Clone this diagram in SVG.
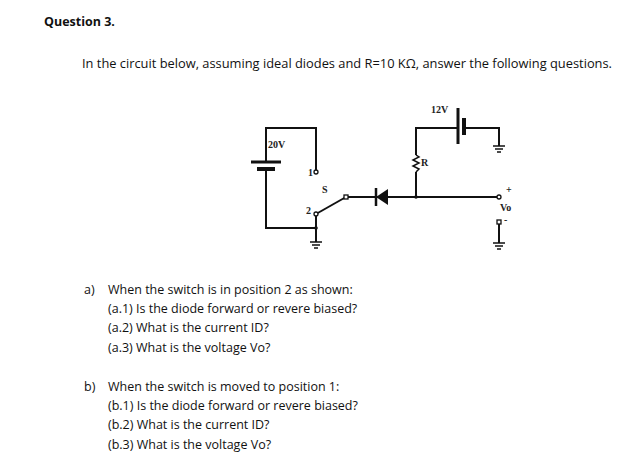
<svg xmlns="http://www.w3.org/2000/svg" width="626" height="459" viewBox="0 0 626 459">
<style>
.t{font-family:"Open Sans","Liberation Sans",sans-serif;font-size:12.5px;fill:#111}
.c{font-family:"Liberation Serif",serif;font-size:10px;font-weight:bold;fill:#222}
.w{stroke:#111;stroke-width:2;fill:none}
.term{fill:#fff;stroke:#111;stroke-width:1.3}
</style>
<rect width="626" height="459" fill="#fff"/>
<g id="text">
<text class="t" x="44" y="26" font-weight="bold">Question 3.</text>
<text class="t" x="82" y="68" textLength="530" lengthAdjust="spacingAndGlyphs">In the circuit below, assuming ideal diodes and R=10 KΩ, answer the following questions.</text>
<text class="t" x="84" y="294">a)</text>
<text class="t" x="108" y="294">When the switch is in position 2 as shown:</text>
<text class="t" x="108" y="313">(a.1) Is the diode forward or revere biased?</text>
<text class="t" x="108" y="332">(a.2) What is the current ID?</text>
<text class="t" x="108" y="352">(a.3) What is the voltage Vo?</text>
<text class="t" x="84" y="391">b)</text>
<text class="t" x="108" y="391">When the switch is moved to position 1:</text>
<text class="t" x="108" y="410">(b.1) Is the diode forward or revere biased?</text>
<text class="t" x="108" y="429">(b.2) What is the current ID?</text>
<text class="t" x="108" y="449">(b.3) What is the voltage Vo?</text>
</g>
<g id="connectors">
<polyline class="w" points="316,172 316,128 266,128 266,162"/>
<polyline class="w" points="266,169 266,228 316,228 316,214"/>
<line class="w" x1="316" y1="228" x2="316" y2="242"/>
<line class="w" x1="316" y1="214" x2="346" y2="197" stroke-width="1.5"/>
<line class="w" x1="346" y1="197" x2="499" y2="197"/>
<polyline class="w" points="416,197 416,172"/>
<polyline class="w" points="416,155 416,128 457,128"/>
<polyline class="w" points="464,128 499,128 499,146"/>
<line class="w" x1="499" y1="222" x2="499" y2="243"/>
</g>
<g id="battery20">
<line x1="251" y1="162" x2="281" y2="162" stroke="#111" stroke-width="3"/>
<line x1="257" y1="169" x2="275" y2="169" stroke="#111" stroke-width="4"/>
<text class="c" x="268" y="148">20V</text>
</g>
<g id="battery12">
<line x1="458" y1="108" x2="458" y2="144" stroke="#111" stroke-width="3"/>
<line x1="464" y1="118" x2="464" y2="135" stroke="#111" stroke-width="4"/>
<text class="c" x="431" y="113">12V</text>
</g>
<g id="switch">
<circle class="term" cx="316" cy="172" r="2"/>
<circle class="term" cx="316" cy="214" r="2"/>
<rect class="term" x="344" y="195" width="4" height="4"/>
<text class="c" x="322" y="193">S</text>
<text class="c" x="308" y="176">1</text>
<text class="c" x="306" y="214">2</text>
<circle cx="316" cy="228" r="1.8" fill="#111"/>
</g>
<g id="diode">
<polygon points="376,197 388,189 388,205" fill="#111"/>
<line x1="376" y1="188" x2="376" y2="206" stroke="#111" stroke-width="2.5"/>
</g>
<g id="resistor">
<polyline fill="none" stroke="#111" stroke-width="1.5" points="416,155 419,157 413,160 419,163 413,166 419,169 416,172"/>
<text class="c" x="421" y="166">R</text>
<circle cx="416" cy="197" r="1.8" fill="#111"/>
</g>
<g id="output">
<circle class="term" cx="499" cy="197" r="2"/>
<rect class="term" x="497" y="220" width="4" height="4"/>
<text class="c" x="506" y="193" font-size="8">+</text>
<text class="c" x="500" y="211">Vo</text>
<text class="c" x="504" y="223" font-size="8">-</text>
</g>
<g id="grounds" stroke="#111" stroke-width="1.5">
<line x1="310" y1="242" x2="322" y2="242"/><line x1="312" y1="245" x2="320" y2="245"/><line x1="314" y1="248" x2="318" y2="248"/>
<line x1="493" y1="146" x2="505" y2="146"/><line x1="495" y1="149" x2="503" y2="149"/><line x1="497" y1="152" x2="501" y2="152"/>
<line x1="493" y1="243" x2="505" y2="243"/><line x1="495" y1="246" x2="503" y2="246"/><line x1="497" y1="249" x2="501" y2="249"/>
</g>
</svg>
